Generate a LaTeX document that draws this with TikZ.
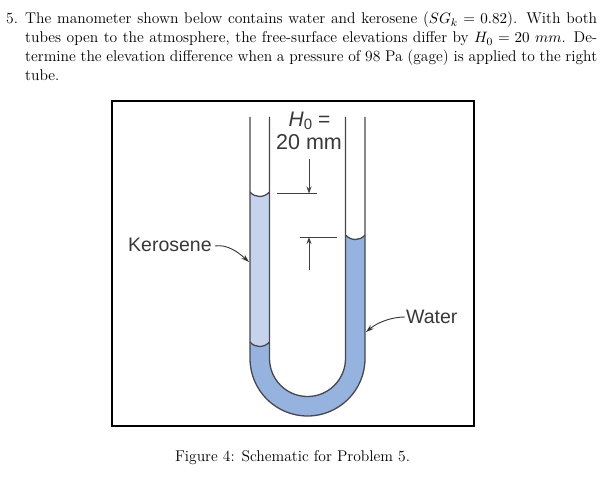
\documentclass[tikz,border=0pt]{standalone}
\usepackage{fontspec}
\usepackage{amsmath}
\usepackage{graphicx}
\usetikzlibrary{arrows.meta}
\newfontfamily\labelfont{Liberation Sans}
\definecolor{kero}{RGB}{198,211,237}
\definecolor{wat}{RGB}{150,178,222}
\definecolor{tubeline}{RGB}{70,72,78}
\newcommand{\ptxt}[1]{\scalebox{1.375}{\fontsize{11.3}{13}\selectfont #1}}
\newcommand{\pline}[1]{\ptxt{\makebox[416pt][s]{#1}}}
\tikzset{
  tubewall/.style={draw=tubeline,line width=1.3pt},
  ptext/.style={inner sep=0pt,anchor=base west},
  lab/.style={inner sep=0pt,text=black!78,font=\fontsize{19.5}{21}\selectfont\labelfont},
  dimline/.style={draw=black!75,line width=1.2pt},
  dimarrow/.style={draw=black!75,line width=1pt,-{Stealth[length=7pt,width=5pt]}},
  leader/.style={draw=black!80,line width=0.9pt,-{Stealth[length=8pt,width=5pt]}}
}
\begin{document}
\begin{tikzpicture}[x=1pt,y=-1pt]
\useasboundingbox (0,0) rectangle (612,494);
% problem text
\node[ptext] (num) at (6,24) {\ptxt{5.}};
\node[ptext] (l1) at (25,24) {\pline{The manometer shown below contains water and kerosene ($SG_k=0.82$). With both}};
\node[ptext] (l2) at (25,43) {\pline{tubes open to the atmosphere, the free-surface elevations differ by $H_0=20\ mm$. De-}};
\node[ptext] (l3) at (25,62) {\pline{termine the elevation difference when a pressure of 98 Pa (gage) is applied to the right}};
\node[ptext] (l4) at (25,81) {\ptxt{tube.}};
% frame
\draw[line width=2pt,black] (112,101.5) rectangle (474,426);
% water
\fill[wat] (250,342) .. controls (255,348) and (264,348) .. (269.5,342)
  -- (269.5,358.5) arc[start angle=180,end angle=0,radius=38] -- (345.5,235)
  .. controls (351,241) and (360,241) .. (365,235)
  -- (365,358.5) arc[start angle=0,end angle=180,radius=57.5] -- cycle;
% kerosene
\fill[kero] (250,192) .. controls (255,198) and (264,198) .. (269.5,192) -- (269.5,342)
  .. controls (264,348) and (255,348) .. (250,342) -- cycle;
% menisci
\draw[tubewall] (250,192) .. controls (255,198) and (264,198) .. (269.5,192);
\draw[tubewall] (250,342) .. controls (255,348) and (264,348) .. (269.5,342);
\draw[tubewall] (345.5,235) .. controls (351,241) and (360,241) .. (365,235);
% tube walls
\draw[tubewall] (250,117) -- (250,358.5) arc[start angle=180,end angle=0,radius=57.5] -- (365,117);
\draw[tubewall] (269.5,117) -- (269.5,358.5) arc[start angle=180,end angle=0,radius=38] -- (345.5,117);
% H0 dimension
\node[lab] (h) at (309.5,121) {\fontsize{21}{23}\selectfont\textit{H}\raisebox{-3pt}{\fontsize{15}{15}\selectfont 0} =};
\node[lab] (mm) at (309,142) {\fontsize{21.5}{23}\selectfont 20 mm};
\coordinate (t1) at (309,159);
\coordinate (t2) at (309,193.5);
\coordinate (b1) at (309,270);
\coordinate (b2) at (309,237);
\draw[dimline] (277,193.5) -- (317,193.5);
\draw[dimline] (300,237.5) -- (337,237.5);
\draw[dimarrow] (t1) -- (t2);
\draw[dimarrow] (b1) -- (b2);
% labels
\node[lab,anchor=west] (k) at (128,245) {Kerosene};
\node[lab,anchor=west] (w) at (406,317) {Water};
\coordinate (kt) at (249,262);
\coordinate (wt) at (366,332);
\draw[leader] (k.east) ++(3,1) .. controls (227,244) and (238,252) .. (kt);
\draw[leader] (w.west) ++(-1,0) .. controls (392,317) and (378,322) .. (wt);
% caption
\node[ptext,anchor=base] (cap) at (292.5,461) {\ptxt{Figure 4: Schematic for Problem 5.}};
\end{tikzpicture}
\end{document}
